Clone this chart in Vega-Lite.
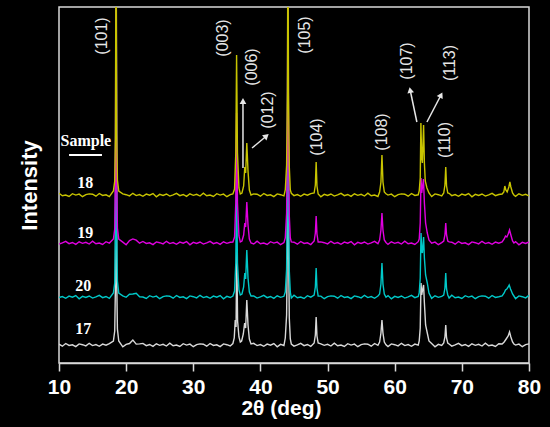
{
  "$schema": "https://vega.github.io/schema/vega-lite/v6.json",
  "width": 470,
  "height": 356,
  "autosize": {"type": "none"},
  "padding": {"left": 59, "top": 7, "right": 21, "bottom": 64},
  "background": "#000000",
  "config": {"view": {"stroke": "#d9d9d9", "strokeWidth": 1.5}},
  "datasets": {
    "xrd": [
      {"s":"17","deg":10.0,"int":18.8},{"s":"17","deg":10.5,"int":16.8},{"s":"17","deg":11.0,"int":19.5},{"s":"17","deg":11.5,"int":17.6},{"s":"17","deg":12.0,"int":18.2},{"s":"17","deg":12.5,"int":16.4},{"s":"17","deg":13.0,"int":19.1},{"s":"17","deg":13.5,"int":18.3},{"s":"17","deg":14.0,"int":17.1},{"s":"17","deg":14.5,"int":19.7},{"s":"17","deg":15.0,"int":17.4},{"s":"17","deg":15.5,"int":18.4},{"s":"17","deg":16.0,"int":16.7},{"s":"17","deg":16.5,"int":18.9},{"s":"17","deg":17.0,"int":17.8},{"s":"17","deg":17.5,"int":19.4},
      {"s":"17","deg":18.1,"int":22},{"s":"17","deg":18.3,"int":32},{"s":"17","deg":18.4,"int":75},{"s":"17","deg":18.5,"int":450},{"s":"17","deg":18.6,"int":80},{"s":"17","deg":18.7,"int":34},{"s":"17","deg":18.9,"int":22},
      {"s":"17","deg":19.5,"int":16.2},{"s":"17","deg":20.0,"int":18.6},{"s":"17","deg":20.5,"int":19.5},{"s":"17","deg":21.0,"int":23.0},{"s":"17","deg":21.5,"int":18.9},{"s":"17","deg":22.0,"int":19.1},{"s":"17","deg":22.5,"int":19.6},{"s":"17","deg":23.0,"int":17.3},{"s":"17","deg":23.5,"int":18.5},{"s":"17","deg":24.0,"int":16.6},{"s":"17","deg":24.5,"int":19.2},{"s":"17","deg":25.0,"int":17.7},{"s":"17","deg":25.5,"int":18.7},{"s":"17","deg":26.0,"int":17.0},{"s":"17","deg":26.5,"int":19.8},{"s":"17","deg":27.0,"int":17.2},{"s":"17","deg":27.5,"int":18.0},{"s":"17","deg":28.0,"int":16.5},{"s":"17","deg":28.5,"int":19.3},{"s":"17","deg":29.0,"int":17.9},{"s":"17","deg":29.5,"int":18.9},{"s":"17","deg":30.0,"int":16.3},{"s":"17","deg":30.5,"int":18.4},{"s":"17","deg":31.0,"int":19.1},{"s":"17","deg":31.5,"int":18.8},{"s":"17","deg":32.0,"int":16.8},{"s":"17","deg":32.5,"int":19.5},{"s":"17","deg":33.0,"int":17.6},{"s":"17","deg":33.5,"int":18.2},{"s":"17","deg":34.0,"int":16.4},{"s":"17","deg":34.5,"int":19.1},{"s":"17","deg":35.0,"int":18.3},{"s":"17","deg":35.5,"int":17.1},
      {"s":"17","deg":35.9,"int":19.5},{"s":"17","deg":36.1,"int":25},{"s":"17","deg":36.25,"int":43},{"s":"17","deg":36.37,"int":36},{"s":"17","deg":36.47,"int":113},{"s":"17","deg":36.6,"int":42},{"s":"17","deg":36.8,"int":26},{"s":"17","deg":37.0,"int":21},{"s":"17","deg":37.2,"int":22},{"s":"17","deg":37.45,"int":29},{"s":"17","deg":37.65,"int":40},{"s":"17","deg":37.8,"int":35},{"s":"17","deg":37.97,"int":63},{"s":"17","deg":38.15,"int":38},{"s":"17","deg":38.35,"int":24},{"s":"17","deg":38.6,"int":19},
      {"s":"17","deg":39.0,"int":19.7},{"s":"17","deg":39.5,"int":17.4},{"s":"17","deg":40.0,"int":18.4},{"s":"17","deg":40.5,"int":16.7},{"s":"17","deg":41.0,"int":18.9},{"s":"17","deg":41.5,"int":17.8},{"s":"17","deg":42.0,"int":19.4},{"s":"17","deg":42.5,"int":16.2},{"s":"17","deg":43.0,"int":18.6},{"s":"17","deg":43.5,"int":17.5},
      {"s":"17","deg":43.7,"int":25},{"s":"17","deg":43.9,"int":48},{"s":"17","deg":44.02,"int":120},{"s":"17","deg":44.1,"int":450},{"s":"17","deg":44.18,"int":120},{"s":"17","deg":44.3,"int":45},{"s":"17","deg":44.45,"int":24},
      {"s":"17","deg":44.6,"int":19.0},{"s":"17","deg":45.0,"int":16.9},{"s":"17","deg":45.5,"int":18.1},{"s":"17","deg":46.0,"int":19.6},{"s":"17","deg":46.5,"int":17.3},{"s":"17","deg":47.0,"int":18.5},{"s":"17","deg":47.5,"int":16.6},
      {"s":"17","deg":48.0,"int":20},{"s":"17","deg":48.18,"int":28},{"s":"17","deg":48.3,"int":46},{"s":"17","deg":48.42,"int":27},{"s":"17","deg":48.6,"int":20},
      {"s":"17","deg":49.0,"int":19.2},{"s":"17","deg":49.5,"int":17.7},{"s":"17","deg":50.0,"int":18.7},{"s":"17","deg":50.5,"int":17.0},{"s":"17","deg":51.0,"int":19.8},{"s":"17","deg":51.5,"int":17.2},{"s":"17","deg":52.0,"int":18.0},{"s":"17","deg":52.5,"int":16.5},{"s":"17","deg":53.0,"int":19.3},{"s":"17","deg":53.5,"int":17.9},{"s":"17","deg":54.0,"int":18.9},{"s":"17","deg":54.5,"int":16.3},{"s":"17","deg":55.0,"int":18.4},{"s":"17","deg":55.5,"int":19.1},{"s":"17","deg":56.0,"int":18.8},{"s":"17","deg":56.5,"int":16.8},{"s":"17","deg":57.0,"int":19.5},{"s":"17","deg":57.5,"int":17.6},
      {"s":"17","deg":57.75,"int":21},{"s":"17","deg":57.95,"int":30},{"s":"17","deg":58.1,"int":43},{"s":"17","deg":58.25,"int":30},{"s":"17","deg":58.45,"int":21},
      {"s":"17","deg":58.7,"int":18.2},{"s":"17","deg":59.0,"int":16.4},{"s":"17","deg":59.5,"int":19.1},{"s":"17","deg":60.0,"int":18.3},{"s":"17","deg":60.5,"int":17.1},{"s":"17","deg":61.0,"int":19.7},{"s":"17","deg":61.5,"int":17.4},{"s":"17","deg":62.0,"int":18.4},{"s":"17","deg":62.5,"int":16.7},{"s":"17","deg":63.0,"int":18.9},{"s":"17","deg":63.5,"int":17.8},
      {"s":"17","deg":63.65,"int":22},{"s":"17","deg":63.8,"int":35},{"s":"17","deg":63.92,"int":80},{"s":"17","deg":64.02,"int":68},{"s":"17","deg":64.12,"int":72},{"s":"17","deg":64.3,"int":78},{"s":"17","deg":64.42,"int":60},{"s":"17","deg":64.6,"int":38},{"s":"17","deg":64.85,"int":30},{"s":"17","deg":65.1,"int":22},
      {"s":"17","deg":65.5,"int":19.4},{"s":"17","deg":66.0,"int":16.2},{"s":"17","deg":66.5,"int":18.6},{"s":"17","deg":67.0,"int":17.5},
      {"s":"17","deg":67.3,"int":20},{"s":"17","deg":67.48,"int":26},{"s":"17","deg":67.6,"int":38},{"s":"17","deg":67.72,"int":25},{"s":"17","deg":67.9,"int":20},
      {"s":"17","deg":68.1,"int":19.0},{"s":"17","deg":68.5,"int":16.9},{"s":"17","deg":69.0,"int":18.1},{"s":"17","deg":69.5,"int":19.6},{"s":"17","deg":70.0,"int":17.3},{"s":"17","deg":70.5,"int":18.5},{"s":"17","deg":71.0,"int":16.6},{"s":"17","deg":71.5,"int":19.2},{"s":"17","deg":72.0,"int":17.7},{"s":"17","deg":72.5,"int":18.7},{"s":"17","deg":73.0,"int":17.0},{"s":"17","deg":73.5,"int":19.8},{"s":"17","deg":74.0,"int":17.2},{"s":"17","deg":74.5,"int":18.0},{"s":"17","deg":75.0,"int":16.5},{"s":"17","deg":75.5,"int":19.3},
      {"s":"17","deg":76.0,"int":19},{"s":"17","deg":76.3,"int":21},{"s":"17","deg":76.6,"int":24},{"s":"17","deg":76.9,"int":27},{"s":"17","deg":77.1,"int":31},{"s":"17","deg":77.3,"int":26},{"s":"17","deg":77.55,"int":21},{"s":"17","deg":77.75,"int":19},
      {"s":"17","deg":78.0,"int":17.9},{"s":"17","deg":78.5,"int":18.9},{"s":"17","deg":79.0,"int":16.3},{"s":"17","deg":79.5,"int":18.4},{"s":"17","deg":80.0,"int":19.1},

      {"s":"20","deg":10.0,"int":65.4},{"s":"20","deg":10.5,"int":66.4},{"s":"20","deg":11.0,"int":64.7},{"s":"20","deg":11.5,"int":66.9},{"s":"20","deg":12.0,"int":65.8},{"s":"20","deg":12.5,"int":67.4},{"s":"20","deg":13.0,"int":64.2},{"s":"20","deg":13.5,"int":66.6},{"s":"20","deg":14.0,"int":65.5},{"s":"20","deg":14.5,"int":67.0},{"s":"20","deg":15.0,"int":64.9},{"s":"20","deg":15.5,"int":66.1},{"s":"20","deg":16.0,"int":67.6},{"s":"20","deg":16.5,"int":65.3},{"s":"20","deg":17.0,"int":66.5},{"s":"20","deg":17.5,"int":64.6},
      {"s":"20","deg":18.1,"int":70},{"s":"20","deg":18.3,"int":80},{"s":"20","deg":18.4,"int":125},{"s":"20","deg":18.5,"int":450},{"s":"20","deg":18.6,"int":128},{"s":"20","deg":18.7,"int":82},{"s":"20","deg":18.9,"int":70},
      {"s":"20","deg":19.5,"int":67.2},{"s":"20","deg":20.0,"int":65.7},{"s":"20","deg":20.5,"int":68.7},{"s":"20","deg":21.0,"int":69.0},{"s":"20","deg":21.5,"int":69.8},{"s":"20","deg":22.0,"int":66.2},{"s":"20","deg":22.5,"int":66.0},{"s":"20","deg":23.0,"int":64.5},{"s":"20","deg":23.5,"int":67.3},{"s":"20","deg":24.0,"int":65.9},{"s":"20","deg":24.5,"int":66.9},{"s":"20","deg":25.0,"int":64.3},{"s":"20","deg":25.5,"int":66.4},{"s":"20","deg":26.0,"int":67.1},{"s":"20","deg":26.5,"int":66.8},{"s":"20","deg":27.0,"int":64.8},{"s":"20","deg":27.5,"int":67.5},{"s":"20","deg":28.0,"int":65.6},{"s":"20","deg":28.5,"int":66.2},{"s":"20","deg":29.0,"int":64.4},{"s":"20","deg":29.5,"int":67.1},{"s":"20","deg":30.0,"int":66.3},{"s":"20","deg":30.5,"int":65.1},{"s":"20","deg":31.0,"int":67.7},{"s":"20","deg":31.5,"int":65.4},{"s":"20","deg":32.0,"int":66.4},{"s":"20","deg":32.5,"int":64.7},{"s":"20","deg":33.0,"int":66.9},{"s":"20","deg":33.5,"int":65.8},{"s":"20","deg":34.0,"int":67.4},{"s":"20","deg":34.5,"int":64.2},{"s":"20","deg":35.0,"int":66.6},{"s":"20","deg":35.5,"int":65.5},
      {"s":"20","deg":35.9,"int":67},{"s":"20","deg":36.15,"int":72},{"s":"20","deg":36.33,"int":100},{"s":"20","deg":36.45,"int":176},{"s":"20","deg":36.58,"int":100},{"s":"20","deg":36.8,"int":73},{"s":"20","deg":37.0,"int":68},{"s":"20","deg":37.25,"int":69},{"s":"20","deg":37.5,"int":76},{"s":"20","deg":37.67,"int":90},{"s":"20","deg":37.8,"int":84},{"s":"20","deg":37.97,"int":113},{"s":"20","deg":38.15,"int":85},{"s":"20","deg":38.35,"int":71},{"s":"20","deg":38.6,"int":67},
      {"s":"20","deg":39.0,"int":67.0},{"s":"20","deg":39.5,"int":64.9},{"s":"20","deg":40.0,"int":66.1},{"s":"20","deg":40.5,"int":67.6},{"s":"20","deg":41.0,"int":65.3},{"s":"20","deg":41.5,"int":66.5},{"s":"20","deg":42.0,"int":64.6},{"s":"20","deg":42.5,"int":67.2},{"s":"20","deg":43.0,"int":65.7},{"s":"20","deg":43.5,"int":66.7},
      {"s":"20","deg":43.7,"int":71},{"s":"20","deg":43.9,"int":94},{"s":"20","deg":44.02,"int":170},{"s":"20","deg":44.1,"int":450},{"s":"20","deg":44.18,"int":170},{"s":"20","deg":44.3,"int":92},{"s":"20","deg":44.45,"int":71},
      {"s":"20","deg":44.6,"int":65.0},{"s":"20","deg":45.0,"int":67.8},{"s":"20","deg":45.5,"int":65.2},{"s":"20","deg":46.0,"int":66.0},{"s":"20","deg":46.5,"int":64.5},{"s":"20","deg":47.0,"int":67.3},{"s":"20","deg":47.5,"int":65.9},
      {"s":"20","deg":48.0,"int":68},{"s":"20","deg":48.18,"int":76},{"s":"20","deg":48.3,"int":95},{"s":"20","deg":48.42,"int":75},{"s":"20","deg":48.6,"int":67},
      {"s":"20","deg":49.0,"int":66.9},{"s":"20","deg":49.5,"int":64.3},{"s":"20","deg":50.0,"int":66.4},{"s":"20","deg":50.5,"int":67.1},{"s":"20","deg":51.0,"int":66.8},{"s":"20","deg":51.5,"int":64.8},{"s":"20","deg":52.0,"int":67.5},{"s":"20","deg":52.5,"int":65.6},{"s":"20","deg":53.0,"int":66.2},{"s":"20","deg":53.5,"int":64.4},{"s":"20","deg":54.0,"int":67.1},{"s":"20","deg":54.5,"int":66.3},{"s":"20","deg":55.0,"int":65.1},{"s":"20","deg":55.5,"int":67.7},{"s":"20","deg":56.0,"int":65.4},{"s":"20","deg":56.5,"int":66.4},{"s":"20","deg":57.0,"int":64.7},{"s":"20","deg":57.5,"int":66.9},
      {"s":"20","deg":57.75,"int":69},{"s":"20","deg":57.95,"int":79},{"s":"20","deg":58.1,"int":100},{"s":"20","deg":58.25,"int":79},{"s":"20","deg":58.45,"int":69},
      {"s":"20","deg":58.7,"int":65.8},{"s":"20","deg":59.0,"int":67.4},{"s":"20","deg":59.5,"int":64.2},{"s":"20","deg":60.0,"int":66.6},{"s":"20","deg":60.5,"int":65.5},{"s":"20","deg":61.0,"int":67.0},{"s":"20","deg":61.5,"int":64.9},{"s":"20","deg":62.0,"int":66.1},{"s":"20","deg":62.5,"int":67.6},{"s":"20","deg":63.0,"int":65.3},{"s":"20","deg":63.5,"int":66.5},
      {"s":"20","deg":63.65,"int":70},{"s":"20","deg":63.8,"int":85},{"s":"20","deg":63.92,"int":130},{"s":"20","deg":64.02,"int":112},{"s":"20","deg":64.12,"int":110},{"s":"20","deg":64.3,"int":126},{"s":"20","deg":64.42,"int":105},{"s":"20","deg":64.6,"int":88},{"s":"20","deg":64.85,"int":80},{"s":"20","deg":65.1,"int":70},
      {"s":"20","deg":65.5,"int":64.6},{"s":"20","deg":66.0,"int":67.2},{"s":"20","deg":66.5,"int":65.7},{"s":"20","deg":67.0,"int":66.7},
      {"s":"20","deg":67.3,"int":68},{"s":"20","deg":67.48,"int":75},{"s":"20","deg":67.6,"int":90},{"s":"20","deg":67.72,"int":74},{"s":"20","deg":67.9,"int":68},
      {"s":"20","deg":68.1,"int":65.0},{"s":"20","deg":68.5,"int":67.8},{"s":"20","deg":69.0,"int":65.2},{"s":"20","deg":69.5,"int":66.0},{"s":"20","deg":70.0,"int":64.5},{"s":"20","deg":70.5,"int":67.3},{"s":"20","deg":71.0,"int":65.9},{"s":"20","deg":71.5,"int":66.9},{"s":"20","deg":72.0,"int":64.3},{"s":"20","deg":72.5,"int":66.4},{"s":"20","deg":73.0,"int":67.1},{"s":"20","deg":73.5,"int":66.8},{"s":"20","deg":74.0,"int":64.8},{"s":"20","deg":74.5,"int":67.5},{"s":"20","deg":75.0,"int":65.6},{"s":"20","deg":75.5,"int":66.2},
      {"s":"20","deg":76.0,"int":67},{"s":"20","deg":76.3,"int":70},{"s":"20","deg":76.5,"int":73},{"s":"20","deg":76.7,"int":74},{"s":"20","deg":76.9,"int":76},{"s":"20","deg":77.05,"int":78},{"s":"20","deg":77.25,"int":74},{"s":"20","deg":77.55,"int":69},{"s":"20","deg":77.75,"int":67},
      {"s":"20","deg":78.0,"int":64.4},{"s":"20","deg":78.5,"int":67.1},{"s":"20","deg":79.0,"int":66.3},{"s":"20","deg":79.5,"int":65.1},{"s":"20","deg":80.0,"int":67.7},

      {"s":"19","deg":10.0,"int":118.9},{"s":"19","deg":10.5,"int":120.1},{"s":"19","deg":11.0,"int":121.6},{"s":"19","deg":11.5,"int":119.3},{"s":"19","deg":12.0,"int":120.5},{"s":"19","deg":12.5,"int":118.6},{"s":"19","deg":13.0,"int":121.2},{"s":"19","deg":13.5,"int":119.7},{"s":"19","deg":14.0,"int":120.7},{"s":"19","deg":14.5,"int":119.0},{"s":"19","deg":15.0,"int":121.8},{"s":"19","deg":15.5,"int":119.2},{"s":"19","deg":16.0,"int":120.0},{"s":"19","deg":16.5,"int":118.5},{"s":"19","deg":17.0,"int":121.3},{"s":"19","deg":17.5,"int":119.9},
      {"s":"19","deg":18.1,"int":124},{"s":"19","deg":18.3,"int":134},{"s":"19","deg":18.4,"int":180},{"s":"19","deg":18.5,"int":450},{"s":"19","deg":18.6,"int":183},{"s":"19","deg":18.7,"int":135},{"s":"19","deg":18.9,"int":124},
      {"s":"19","deg":19.5,"int":120.9},{"s":"19","deg":20.0,"int":118.3},{"s":"19","deg":20.5,"int":122.4},{"s":"19","deg":21.0,"int":124.1},{"s":"19","deg":21.5,"int":122.8},{"s":"19","deg":22.0,"int":119.8},{"s":"19","deg":22.5,"int":121.5},{"s":"19","deg":23.0,"int":119.6},{"s":"19","deg":23.5,"int":120.2},{"s":"19","deg":24.0,"int":118.4},{"s":"19","deg":24.5,"int":121.1},{"s":"19","deg":25.0,"int":120.3},{"s":"19","deg":25.5,"int":119.1},{"s":"19","deg":26.0,"int":121.7},{"s":"19","deg":26.5,"int":119.4},{"s":"19","deg":27.0,"int":120.4},{"s":"19","deg":27.5,"int":118.7},{"s":"19","deg":28.0,"int":120.9},{"s":"19","deg":28.5,"int":119.8},{"s":"19","deg":29.0,"int":121.4},{"s":"19","deg":29.5,"int":118.2},{"s":"19","deg":30.0,"int":120.6},{"s":"19","deg":30.5,"int":119.5},{"s":"19","deg":31.0,"int":121.0},{"s":"19","deg":31.5,"int":118.9},{"s":"19","deg":32.0,"int":120.1},{"s":"19","deg":32.5,"int":121.6},{"s":"19","deg":33.0,"int":119.3},{"s":"19","deg":33.5,"int":120.5},{"s":"19","deg":34.0,"int":118.6},{"s":"19","deg":34.5,"int":121.2},{"s":"19","deg":35.0,"int":119.7},{"s":"19","deg":35.5,"int":120.7},
      {"s":"19","deg":35.9,"int":121},{"s":"19","deg":36.15,"int":126},{"s":"19","deg":36.33,"int":160},{"s":"19","deg":36.45,"int":250},{"s":"19","deg":36.58,"int":160},{"s":"19","deg":36.8,"int":127},{"s":"19","deg":37.0,"int":121},{"s":"19","deg":37.25,"int":122},{"s":"19","deg":37.5,"int":128},{"s":"19","deg":37.67,"int":140},{"s":"19","deg":37.8,"int":136},{"s":"19","deg":37.97,"int":161},{"s":"19","deg":38.15,"int":138},{"s":"19","deg":38.35,"int":124},{"s":"19","deg":38.6,"int":120},
      {"s":"19","deg":39.0,"int":119.0},{"s":"19","deg":39.5,"int":121.8},{"s":"19","deg":40.0,"int":119.2},{"s":"19","deg":40.5,"int":120.0},{"s":"19","deg":41.0,"int":118.5},{"s":"19","deg":41.5,"int":121.3},{"s":"19","deg":42.0,"int":119.9},{"s":"19","deg":42.5,"int":120.9},{"s":"19","deg":43.0,"int":118.3},{"s":"19","deg":43.5,"int":120.4},
      {"s":"19","deg":43.7,"int":125},{"s":"19","deg":43.9,"int":150},{"s":"19","deg":44.02,"int":225},{"s":"19","deg":44.1,"int":450},{"s":"19","deg":44.18,"int":225},{"s":"19","deg":44.3,"int":147},{"s":"19","deg":44.45,"int":125},
      {"s":"19","deg":44.6,"int":121.1},{"s":"19","deg":45.0,"int":120.8},{"s":"19","deg":45.5,"int":118.8},{"s":"19","deg":46.0,"int":121.5},{"s":"19","deg":46.5,"int":119.6},{"s":"19","deg":47.0,"int":120.2},{"s":"19","deg":47.5,"int":118.4},
      {"s":"19","deg":48.0,"int":122},{"s":"19","deg":48.18,"int":130},{"s":"19","deg":48.3,"int":147},{"s":"19","deg":48.42,"int":129},{"s":"19","deg":48.6,"int":121},
      {"s":"19","deg":49.0,"int":121.1},{"s":"19","deg":49.5,"int":120.3},{"s":"19","deg":50.0,"int":119.1},{"s":"19","deg":50.5,"int":121.7},{"s":"19","deg":51.0,"int":119.4},{"s":"19","deg":51.5,"int":120.4},{"s":"19","deg":52.0,"int":118.7},{"s":"19","deg":52.5,"int":120.9},{"s":"19","deg":53.0,"int":119.8},{"s":"19","deg":53.5,"int":121.4},{"s":"19","deg":54.0,"int":118.2},{"s":"19","deg":54.5,"int":120.6},{"s":"19","deg":55.0,"int":119.5},{"s":"19","deg":55.5,"int":121.0},{"s":"19","deg":56.0,"int":118.9},{"s":"19","deg":56.5,"int":120.1},{"s":"19","deg":57.0,"int":121.6},{"s":"19","deg":57.5,"int":119.3},
      {"s":"19","deg":57.75,"int":123},{"s":"19","deg":57.95,"int":133},{"s":"19","deg":58.1,"int":150},{"s":"19","deg":58.25,"int":133},{"s":"19","deg":58.45,"int":123},
      {"s":"19","deg":58.7,"int":120.5},{"s":"19","deg":59.0,"int":118.6},{"s":"19","deg":59.5,"int":121.2},{"s":"19","deg":60.0,"int":119.7},{"s":"19","deg":60.5,"int":120.7},{"s":"19","deg":61.0,"int":119.0},{"s":"19","deg":61.5,"int":121.8},{"s":"19","deg":62.0,"int":119.2},{"s":"19","deg":62.5,"int":120.0},{"s":"19","deg":63.0,"int":118.5},{"s":"19","deg":63.5,"int":121.3},
      {"s":"19","deg":63.65,"int":124},{"s":"19","deg":63.8,"int":140},{"s":"19","deg":63.92,"int":185},{"s":"19","deg":64.02,"int":170},{"s":"19","deg":64.12,"int":175},{"s":"19","deg":64.28,"int":184},{"s":"19","deg":64.42,"int":160},{"s":"19","deg":64.6,"int":140},{"s":"19","deg":64.85,"int":130},{"s":"19","deg":65.1,"int":123},
      {"s":"19","deg":65.5,"int":119.9},{"s":"19","deg":66.0,"int":120.9},{"s":"19","deg":66.5,"int":118.3},{"s":"19","deg":67.0,"int":120.4},
      {"s":"19","deg":67.3,"int":122},{"s":"19","deg":67.48,"int":128},{"s":"19","deg":67.6,"int":140},{"s":"19","deg":67.72,"int":128},{"s":"19","deg":67.9,"int":122},
      {"s":"19","deg":68.1,"int":121.1},{"s":"19","deg":68.5,"int":120.8},{"s":"19","deg":69.0,"int":118.8},{"s":"19","deg":69.5,"int":121.5},{"s":"19","deg":70.0,"int":119.6},{"s":"19","deg":70.5,"int":120.2},{"s":"19","deg":71.0,"int":118.4},{"s":"19","deg":71.5,"int":121.1},{"s":"19","deg":72.0,"int":120.3},{"s":"19","deg":72.5,"int":119.1},{"s":"19","deg":73.0,"int":121.7},{"s":"19","deg":73.5,"int":119.4},{"s":"19","deg":74.0,"int":120.4},{"s":"19","deg":74.5,"int":118.7},{"s":"19","deg":75.0,"int":120.9},{"s":"19","deg":75.5,"int":119.8},
      {"s":"19","deg":76.0,"int":121},{"s":"19","deg":76.3,"int":124},{"s":"19","deg":76.5,"int":127},{"s":"19","deg":76.7,"int":126},{"s":"19","deg":76.9,"int":129},{"s":"19","deg":77.1,"int":133},{"s":"19","deg":77.3,"int":128},{"s":"19","deg":77.55,"int":122},{"s":"19","deg":77.75,"int":120},
      {"s":"19","deg":78.0,"int":121.4},{"s":"19","deg":78.5,"int":118.2},{"s":"19","deg":79.0,"int":120.6},{"s":"19","deg":79.5,"int":119.5},{"s":"19","deg":80.0,"int":121.0},

      {"s":"18","deg":10.0,"int":169.8},{"s":"18","deg":10.5,"int":167.2},{"s":"18","deg":11.0,"int":168.0},{"s":"18","deg":11.5,"int":166.5},{"s":"18","deg":12.0,"int":169.3},{"s":"18","deg":12.5,"int":167.9},{"s":"18","deg":13.0,"int":168.9},{"s":"18","deg":13.5,"int":166.3},{"s":"18","deg":14.0,"int":168.4},{"s":"18","deg":14.5,"int":169.1},{"s":"18","deg":15.0,"int":168.8},{"s":"18","deg":15.5,"int":166.8},{"s":"18","deg":16.0,"int":169.5},{"s":"18","deg":16.5,"int":167.6},{"s":"18","deg":17.0,"int":168.2},{"s":"18","deg":17.5,"int":166.4},
      {"s":"18","deg":18.1,"int":172},{"s":"18","deg":18.3,"int":182},{"s":"18","deg":18.4,"int":225},{"s":"18","deg":18.5,"int":450},{"s":"18","deg":18.6,"int":228},{"s":"18","deg":18.7,"int":183},{"s":"18","deg":18.9,"int":172},
      {"s":"18","deg":19.5,"int":169.1},{"s":"18","deg":20.0,"int":168.3},{"s":"18","deg":20.5,"int":167.1},{"s":"18","deg":21.0,"int":169.7},{"s":"18","deg":21.5,"int":167.4},{"s":"18","deg":22.0,"int":168.4},{"s":"18","deg":22.5,"int":166.7},{"s":"18","deg":23.0,"int":168.9},{"s":"18","deg":23.5,"int":167.8},{"s":"18","deg":24.0,"int":169.4},{"s":"18","deg":24.5,"int":166.2},{"s":"18","deg":25.0,"int":168.6},{"s":"18","deg":25.5,"int":167.5},{"s":"18","deg":26.0,"int":169.0},{"s":"18","deg":26.5,"int":166.9},{"s":"18","deg":27.0,"int":168.1},{"s":"18","deg":27.5,"int":169.6},{"s":"18","deg":28.0,"int":167.3},{"s":"18","deg":28.5,"int":168.5},{"s":"18","deg":29.0,"int":166.6},{"s":"18","deg":29.5,"int":169.2},{"s":"18","deg":30.0,"int":167.7},{"s":"18","deg":30.5,"int":168.7},{"s":"18","deg":31.0,"int":167.0},{"s":"18","deg":31.5,"int":169.8},{"s":"18","deg":32.0,"int":167.2},{"s":"18","deg":32.5,"int":168.0},{"s":"18","deg":33.0,"int":166.5},{"s":"18","deg":33.5,"int":169.3},{"s":"18","deg":34.0,"int":167.9},{"s":"18","deg":34.5,"int":168.9},{"s":"18","deg":35.0,"int":166.3},{"s":"18","deg":35.5,"int":168.4},
      {"s":"18","deg":35.9,"int":169},{"s":"18","deg":36.15,"int":174},{"s":"18","deg":36.33,"int":210},{"s":"18","deg":36.45,"int":308},{"s":"18","deg":36.58,"int":210},{"s":"18","deg":36.8,"int":175},{"s":"18","deg":37.0,"int":169},{"s":"18","deg":37.25,"int":170},{"s":"18","deg":37.5,"int":177},{"s":"18","deg":37.67,"int":196},{"s":"18","deg":37.8,"int":190},{"s":"18","deg":37.97,"int":220},{"s":"18","deg":38.15,"int":192},{"s":"18","deg":38.35,"int":173},{"s":"18","deg":38.6,"int":168},
      {"s":"18","deg":39.0,"int":169.1},{"s":"18","deg":39.5,"int":168.8},{"s":"18","deg":40.0,"int":166.8},{"s":"18","deg":40.5,"int":169.5},{"s":"18","deg":41.0,"int":167.6},{"s":"18","deg":41.5,"int":168.2},{"s":"18","deg":42.0,"int":166.4},{"s":"18","deg":42.5,"int":169.1},{"s":"18","deg":43.0,"int":168.3},{"s":"18","deg":43.5,"int":167.1},
      {"s":"18","deg":43.7,"int":173},{"s":"18","deg":43.9,"int":198},{"s":"18","deg":44.02,"int":270},{"s":"18","deg":44.1,"int":450},{"s":"18","deg":44.18,"int":270},{"s":"18","deg":44.3,"int":196},{"s":"18","deg":44.45,"int":173},
      {"s":"18","deg":44.6,"int":169.7},{"s":"18","deg":45.0,"int":167.4},{"s":"18","deg":45.5,"int":168.4},{"s":"18","deg":46.0,"int":166.7},{"s":"18","deg":46.5,"int":168.9},{"s":"18","deg":47.0,"int":167.8},{"s":"18","deg":47.5,"int":169.4},
      {"s":"18","deg":48.0,"int":170},{"s":"18","deg":48.18,"int":178},{"s":"18","deg":48.3,"int":201},{"s":"18","deg":48.42,"int":177},{"s":"18","deg":48.6,"int":169},
      {"s":"18","deg":49.0,"int":166.2},{"s":"18","deg":49.5,"int":168.6},{"s":"18","deg":50.0,"int":167.5},{"s":"18","deg":50.5,"int":169.0},{"s":"18","deg":51.0,"int":166.9},{"s":"18","deg":51.5,"int":168.1},{"s":"18","deg":52.0,"int":169.6},{"s":"18","deg":52.5,"int":167.3},{"s":"18","deg":53.0,"int":168.5},{"s":"18","deg":53.5,"int":166.6},{"s":"18","deg":54.0,"int":169.2},{"s":"18","deg":54.5,"int":167.7},{"s":"18","deg":55.0,"int":168.7},{"s":"18","deg":55.5,"int":167.0},{"s":"18","deg":56.0,"int":169.8},{"s":"18","deg":56.5,"int":167.2},{"s":"18","deg":57.0,"int":168.0},{"s":"18","deg":57.5,"int":166.5},
      {"s":"18","deg":57.75,"int":171},{"s":"18","deg":57.95,"int":181},{"s":"18","deg":58.1,"int":208},{"s":"18","deg":58.25,"int":181},{"s":"18","deg":58.45,"int":171},
      {"s":"18","deg":58.7,"int":169.3},{"s":"18","deg":59.0,"int":167.9},{"s":"18","deg":59.5,"int":168.9},{"s":"18","deg":60.0,"int":166.3},{"s":"18","deg":60.5,"int":168.4},{"s":"18","deg":61.0,"int":169.1},{"s":"18","deg":61.5,"int":168.8},{"s":"18","deg":62.0,"int":166.8},{"s":"18","deg":62.5,"int":169.5},{"s":"18","deg":63.0,"int":167.6},{"s":"18","deg":63.5,"int":168.2},
      {"s":"18","deg":63.65,"int":172},{"s":"18","deg":63.8,"int":185},{"s":"18","deg":63.9,"int":240},{"s":"18","deg":64.02,"int":205},{"s":"18","deg":64.12,"int":200},{"s":"18","deg":64.3,"int":238},{"s":"18","deg":64.42,"int":200},{"s":"18","deg":64.55,"int":182},{"s":"18","deg":64.8,"int":175},{"s":"18","deg":65.1,"int":170},
      {"s":"18","deg":65.5,"int":166.4},{"s":"18","deg":66.0,"int":169.1},{"s":"18","deg":66.5,"int":168.3},{"s":"18","deg":67.0,"int":167.1},
      {"s":"18","deg":67.3,"int":170},{"s":"18","deg":67.48,"int":178},{"s":"18","deg":67.6,"int":196},{"s":"18","deg":67.72,"int":177},{"s":"18","deg":67.9,"int":170},
      {"s":"18","deg":68.1,"int":169.7},{"s":"18","deg":68.5,"int":167.4},{"s":"18","deg":69.0,"int":168.4},{"s":"18","deg":69.5,"int":166.7},{"s":"18","deg":70.0,"int":168.9},{"s":"18","deg":70.5,"int":167.8},{"s":"18","deg":71.0,"int":169.4},{"s":"18","deg":71.5,"int":166.2},{"s":"18","deg":72.0,"int":168.6},{"s":"18","deg":72.5,"int":167.5},{"s":"18","deg":73.0,"int":169.0},{"s":"18","deg":73.5,"int":166.9},{"s":"18","deg":74.0,"int":168.1},{"s":"18","deg":74.5,"int":169.6},{"s":"18","deg":75.0,"int":167.3},{"s":"18","deg":75.5,"int":168.5},
      {"s":"18","deg":76.0,"int":169},{"s":"18","deg":76.25,"int":171},{"s":"18","deg":76.4,"int":177},{"s":"18","deg":76.55,"int":173},{"s":"18","deg":76.75,"int":171},{"s":"18","deg":77.0,"int":176},{"s":"18","deg":77.15,"int":181},{"s":"18","deg":77.3,"int":176},{"s":"18","deg":77.55,"int":170},{"s":"18","deg":77.75,"int":168},
      {"s":"18","deg":78.0,"int":166.6},{"s":"18","deg":78.5,"int":169.2},{"s":"18","deg":79.0,"int":167.7},{"s":"18","deg":79.5,"int":168.7},{"s":"18","deg":80.0,"int":167.0}
    ],
    "peaks": [
      {"lab":"(101)","deg":16.4,"y":327},
      {"lab":"(003)","deg":34.4,"y":325},
      {"lab":"(006)","deg":38.7,"y":296},
      {"lab":"(012)","deg":41.1,"y":253},
      {"lab":"(105)","deg":46.6,"y":328},
      {"lab":"(104)","deg":48.4,"y":226},
      {"lab":"(108)","deg":58.1,"y":231},
      {"lab":"(107)","deg":61.8,"y":302},
      {"lab":"(113)","deg":68.2,"y":300},
      {"lab":"(110)","deg":67.5,"y":223}
    ],
    "arrows": [
      {"deg":37.4,"y":195,"deg2":37.4,"y2":262,"ang":0},
      {"deg":38.75,"y":215,"deg2":40.9,"y2":227,"ang":49},
      {"deg":63.3,"y":241,"deg2":62.3,"y2":273,"ang":349},
      {"deg":64.8,"y":241,"deg2":66.9,"y2":268,"ang":27}
    ],
    "samples": [
      {"t":"Sample","deg":14.0,"y":222},
      {"t":"18","deg":13.9,"y":180},
      {"t":"19","deg":13.9,"y":130},
      {"t":"20","deg":13.6,"y":77},
      {"t":"17","deg":13.6,"y":34}
    ],
    "underline": [
      {"deg":11.5,"deg2":16.4,"y":208}
    ]
  },
  "layer": [
    {
      "data": {"name": "xrd"},
      "mark": {"type": "line", "strokeWidth": 1.4, "clip": true},
      "encoding": {
        "x": {
          "field": "deg", "type": "quantitative",
          "scale": {"domain": [10, 80], "nice": false},
          "axis": {
            "values": [10, 15, 20, 25, 30, 35, 40, 45, 50, 55, 60, 65, 70, 75, 80],
            "labelExpr": "datum.value % 10 === 0 ? datum.label : ''",
            "tickSize": {"condition": {"test": "datum.value % 10 === 0", "value": 8}, "value": 4},
            "tickColor": "#d9d9d9", "tickWidth": 1.5,
            "domainColor": "#d9d9d9", "domainWidth": 1.5,
            "grid": false, "labelFlush": false, "labelOverlap": false,
            "labelColor": "#ffffff", "labelFont": "Liberation Sans", "labelFontSize": 21, "labelFontWeight": "bold", "labelPadding": 5,
            "title": "2θ (deg)", "titleColor": "#ffffff", "titleFont": "Liberation Sans", "titleFontSize": 21, "titleFontWeight": "bold", "titlePadding": 0, "titleX": 222
          }
        },
        "y": {
          "field": "int", "type": "quantitative",
          "scale": {"domain": [0, 356], "nice": false, "zero": false},
          "axis": {
            "title": "Intensity", "ticks": false, "labels": false, "domain": false, "grid": false,
            "titleColor": "#ffffff", "titleFont": "Liberation Sans", "titleFontSize": 22, "titleFontWeight": "bold", "titlePadding": 18
          }
        },
        "color": {
          "field": "s", "type": "nominal",
          "scale": {"domain": ["17", "20", "19", "18"], "range": ["#d9d9d9", "#00c8c8", "#e000e0", "#c8c400"]},
          "legend": null
        }
      }
    },
    {
      "data": {"name": "peaks"},
      "mark": {"type": "text", "angle": 270, "align": "center", "baseline": "middle", "font": "Liberation Sans", "fontSize": 16, "color": "#e6e6e6"},
      "encoding": {
        "x": {"field": "deg", "type": "quantitative"},
        "y": {"field": "y", "type": "quantitative"},
        "text": {"field": "lab"}
      }
    },
    {
      "data": {"name": "arrows"},
      "mark": {"type": "rule", "color": "#e6e6e6", "strokeWidth": 1.5},
      "encoding": {
        "x": {"field": "deg", "type": "quantitative"},
        "y": {"field": "y", "type": "quantitative"},
        "x2": {"field": "deg2"},
        "y2": {"field": "y2"}
      }
    },
    {
      "data": {"name": "arrows"},
      "mark": {"type": "point", "shape": "triangle-up", "filled": true, "size": 45, "color": "#e6e6e6", "opacity": 1},
      "encoding": {
        "x": {"field": "deg2", "type": "quantitative"},
        "y": {"field": "y2", "type": "quantitative"},
        "angle": {"field": "ang", "type": "quantitative", "scale": null}
      }
    },
    {
      "data": {"name": "samples"},
      "mark": {"type": "text", "align": "center", "baseline": "middle", "font": "Liberation Serif", "fontSize": 16, "fontWeight": "bold", "color": "#ffffff"},
      "encoding": {
        "x": {"field": "deg", "type": "quantitative"},
        "y": {"field": "y", "type": "quantitative"},
        "text": {"field": "t"}
      }
    },
    {
      "data": {"name": "underline"},
      "mark": {"type": "rule", "color": "#ffffff", "strokeWidth": 2},
      "encoding": {
        "x": {"field": "deg", "type": "quantitative"},
        "x2": {"field": "deg2"},
        "y": {"field": "y", "type": "quantitative"}
      }
    }
  ]
}
